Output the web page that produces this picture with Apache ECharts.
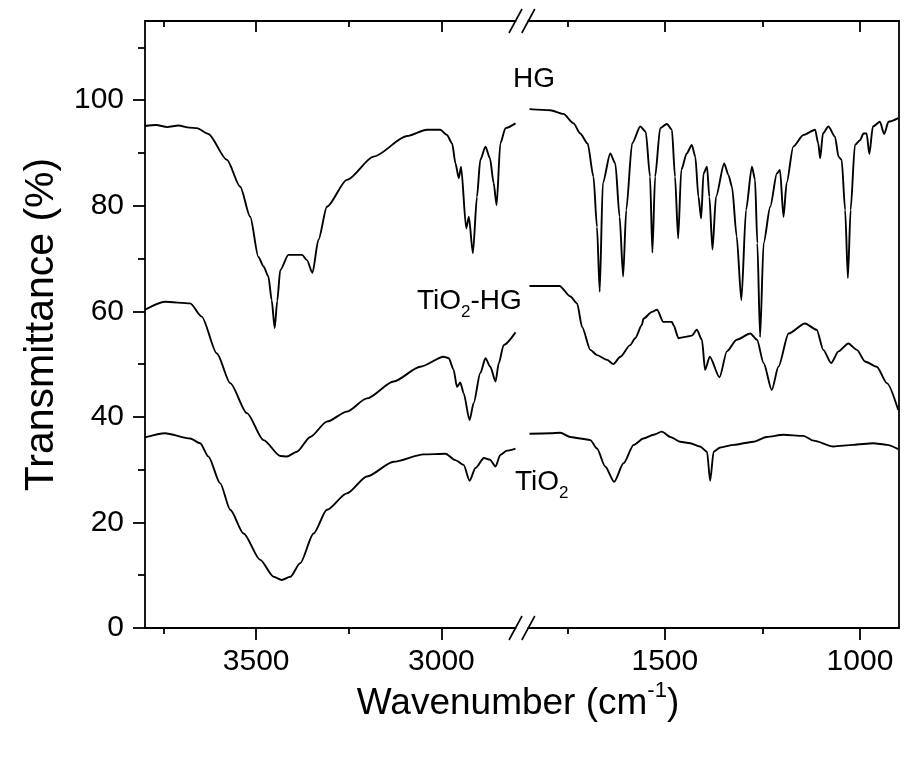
<!DOCTYPE html>
<html>
<head>
<meta charset="utf-8">
<script src="https://cdn.jsdelivr.net/npm/echarts@6/dist/echarts.min.js"></script>
<style>
  html, body { margin: 0; padding: 0; background: #fff; }
  #chart { width: 913px; height: 759px; }
</style>
</head>
<body>
<div id="chart"></div>
<script>
// [wavenumber (cm-1), transmittance (%)]
// high wavenumber part (3800 - 2800)
const hgHigh = [[3800,95.1],[3770,95.3],[3740,94.9],[3710,95.2],[3680,94.8],[3660,94.7],[3629,93.6],[3579,88.7],[3543,83.6],[3516,77.9],[3494,70.3],[3480,68.5],[3467,66.6],[3458,62.1],[3450,56.8],[3443,62.0],[3435,67.8],[3413,70.7],[3376,70.7],[3363,69.7],[3348,67.3],[3332,73.5],[3309,79.8],[3255,84.9],[3183,89.3],[3093,93.2],[3039,94.4],[3003,94.4],[2985,93.4],[2971,91.8],[2962,88.0],[2953,85.2],[2947,87.4],[2933,75.7],[2926,77.9],[2915,71.0],[2904,81.7],[2895,88.7],[2881,91.2],[2869,89.0],[2859,84.3],[2851,80.1],[2841,91.8],[2827,94.7],[2800,95.6]];
const tio2hgHigh = [[3800,60.3],[3746,61.8],[3678,61.5],[3647,59.0],[3606,52.0],[3570,46.4],[3525,40.7],[3480,35.6],[3435,32.6],[3417,32.5],[3390,33.4],[3354,36.2],[3309,39.1],[3255,41.0],[3201,43.5],[3129,46.7],[3057,49.5],[2994,51.4],[2980,51.1],[2967,48.9],[2958,45.7],[2949,46.5],[2940,44.5],[2924,39.4],[2913,42.6],[2895,48.3],[2881,51.1],[2868,49.5],[2854,46.7],[2845,50.2],[2832,53.6],[2800,56.0]];
const tio2High = [[3800,36.1],[3746,36.9],[3678,35.9],[3651,35.0],[3629,32.5],[3597,27.4],[3570,22.4],[3534,17.9],[3489,12.9],[3453,9.7],[3431,9.1],[3408,9.7],[3381,12.3],[3345,17.9],[3309,22.4],[3255,25.5],[3201,28.7],[3129,31.5],[3048,32.9],[2989,33.0],[2962,31.8],[2940,30.9],[2924,27.9],[2908,30.3],[2885,32.2],[2869,31.9],[2854,30.6],[2841,32.8],[2823,33.6],[2800,34.0]];

// low wavenumber part (1850 - 900)
const hgLow = [[1847,98.3],[1794,98.1],[1760,97.4],[1734,95.6],[1717,93.7],[1698,91.8],[1683,85.5],[1674,76.0],[1667,63.7],[1659,84.3],[1640,89.9],[1627,88.0],[1616,77.9],[1607,66.6],[1599,79.2],[1584,91.8],[1563,95.0],[1549,94.0],[1538,85.5],[1532,71.1],[1525,85.5],[1512,94.7],[1495,95.5],[1482,94.4],[1474,85.5],[1466,73.8],[1458,86.8],[1444,89.9],[1431,91.5],[1422,89.3],[1414,81.7],[1407,77.6],[1401,86.1],[1392,87.4],[1386,81.7],[1378,71.7],[1369,81.7],[1348,88.0],[1337,85.8],[1328,83.6],[1316,74.2],[1304,62.1],[1292,79.2],[1277,87.4],[1269,85.0],[1263,72.9],[1256,55.1],[1247,72.9],[1230,79.8],[1213,86.1],[1205,86.8],[1196,77.9],[1188,84.3],[1171,91.2],[1145,93.4],[1115,94.4],[1107,91.8],[1102,89.0],[1095,93.7],[1081,95.0],[1064,93.1],[1055,89.3],[1047,88.7],[1038,79.2],[1031,66.3],[1024,79.2],[1013,91.5],[1000,92.4],[991,93.7],[983,93.7],[976,89.8],[967,95.0],[949,95.9],[938,93.6],[927,95.9],[902,96.6]];
const tio2hgLow = [[1847,64.8],[1794,64.8],[1770,64.8],[1742,62.8],[1725,61.5],[1712,57.0],[1691,52.7],[1674,51.7],[1648,50.8],[1632,50.0],[1614,51.4],[1589,53.6],[1576,54.9],[1559,57.4],[1555,58.6],[1533,59.9],[1520,60.3],[1504,58.0],[1482,58.0],[1478,57.4],[1465,54.9],[1444,55.2],[1431,55.4],[1418,56.5],[1405,54.6],[1397,48.9],[1385,51.4],[1360,47.5],[1341,52.4],[1316,54.6],[1281,55.8],[1264,54.6],[1247,50.2],[1226,45.1],[1209,49.5],[1183,55.8],[1141,57.7],[1111,56.5],[1094,52.7],[1074,50.2],[1055,52.4],[1030,53.9],[1008,52.7],[987,50.5],[957,49.5],[931,46.4],[902,41.3]];
const tio2Low = [[1847,36.8],[1794,36.9],[1768,37.0],[1742,36.2],[1717,35.9],[1691,35.6],[1674,34.0],[1653,30.6],[1630,27.7],[1606,31.2],[1580,34.7],[1555,35.9],[1529,36.6],[1508,37.2],[1486,36.2],[1461,35.3],[1435,35.0],[1410,34.4],[1392,33.4],[1384,27.9],[1375,33.4],[1358,34.2],[1324,34.7],[1273,35.3],[1239,36.2],[1196,36.6],[1145,36.4],[1119,35.5],[1068,34.4],[1017,34.7],[966,35.0],[931,34.7],[902,33.9]];

// axis ranges and ticks
const highRange = [2800, 3800];
const lowRange = [900, 1850];
const highMajor = [3500, 3000];
const highMinor = [3750, 3250];
const lowMajor = [1500, 1000];
const lowMinor = [1750, 1250];
const yRange = [0, 115];
const yMajor = [0, 20, 40, 60, 80, 100];
const yMinor = [10, 30, 50, 70, 90, 110];

const FONT = '"Liberation Sans", Arial, sans-serif';
const BLACK = '#000';
const AXIS_W = 1.8;
const PLOT_TOP = 21, PLOT_BOTTOM = 628;
const BREAK_L = 515.5, BREAK_R = 528.3;

const chart = echarts.init(document.getElementById('chart'), null, { renderer: 'canvas' });

function xAxisDef(gridIndex, range, pos, ticks, len, withLabels, withLine) {
  return {
    type: 'value',
    gridIndex: gridIndex,
    min: range[0],
    max: range[1],
    inverse: true,
    position: pos,
    axisLine: { show: withLine, onZero: false, lineStyle: { color: BLACK, width: AXIS_W } },
    axisTick: {
      show: true, inside: pos === 'top', length: len, customValues: ticks,
      lineStyle: { color: BLACK, width: AXIS_W }
    },
    axisLabel: withLabels
      ? { show: true, customValues: ticks, margin: 19, fontSize: 30, color: BLACK, fontFamily: FONT,
          formatter: (v) => String(v) }
      : { show: false },
    splitLine: { show: false }
  };
}

function lineSeries(name, data, xi, yi) {
  return {
    name: name,
    type: 'line',
    data: data,
    xAxisIndex: xi,
    yAxisIndex: yi,
    showSymbol: false,
    smooth: 0.25,
    smoothMonotone: 'x',
    lineStyle: { color: BLACK, width: 1.9 },
    silent: true
  };
}

function breakMark(cx, cy) {
  return {
    type: 'line',
    shape: { x1: cx - 6.5, y1: cy + 12, x2: cx + 6.5, y2: cy - 12 },
    style: { stroke: BLACK, lineWidth: 1.6 }
  };
}

const richBase = { fontSize: 28, fontFamily: FONT, color: BLACK, lineHeight: 40 };
const richSub = { fontSize: 17, fontFamily: FONT, color: BLACK, lineHeight: 8, verticalAlign: 'bottom' };

chart.setOption({
  animation: false,
  backgroundColor: '#fff',
  grid: [
    { left: 145, top: PLOT_TOP, width: BREAK_L - 145, height: PLOT_BOTTOM - PLOT_TOP },
    { left: BREAK_R, top: PLOT_TOP, width: 899 - BREAK_R, height: PLOT_BOTTOM - PLOT_TOP }
  ],
  xAxis: [
    xAxisDef(0, highRange, 'bottom', highMajor, 12, true, true),
    xAxisDef(0, highRange, 'bottom', highMinor, 6, false, false),
    xAxisDef(0, highRange, 'top', highMajor, 11, false, true),
    xAxisDef(0, highRange, 'top', highMinor, 6, false, false),
    xAxisDef(1, lowRange, 'bottom', lowMajor, 12, true, true),
    xAxisDef(1, lowRange, 'bottom', lowMinor, 6, false, false),
    xAxisDef(1, lowRange, 'top', lowMajor, 11, false, true),
    xAxisDef(1, lowRange, 'top', lowMinor, 6, false, false)
  ],
  yAxis: [
    {
      type: 'value', gridIndex: 0, min: yRange[0], max: yRange[1], position: 'left',
      name: 'Transmittance (%)', nameLocation: 'middle', nameGap: 83, nameRotate: 90,
      nameTextStyle: { fontSize: 41, color: BLACK, fontFamily: FONT },
      axisLine: { show: true, onZero: false, lineStyle: { color: BLACK, width: AXIS_W } },
      axisTick: { show: true, length: 12, customValues: yMajor, lineStyle: { color: BLACK, width: AXIS_W } },
      axisLabel: { show: true, customValues: yMajor, margin: 21, fontSize: 30, color: BLACK, fontFamily: FONT },
      splitLine: { show: false }
    },
    {
      type: 'value', gridIndex: 0, min: yRange[0], max: yRange[1], position: 'left',
      axisLine: { show: false },
      axisTick: { show: true, length: 7, customValues: yMinor, lineStyle: { color: BLACK, width: AXIS_W } },
      axisLabel: { show: false },
      splitLine: { show: false }
    },
    {
      type: 'value', gridIndex: 1, min: yRange[0], max: yRange[1], position: 'right',
      axisLine: { show: true, onZero: false, lineStyle: { color: BLACK, width: AXIS_W } },
      axisTick: { show: false },
      axisLabel: { show: false },
      splitLine: { show: false }
    }
  ],
  series: [
    lineSeries('HG', hgHigh, 0, 0),
    lineSeries('TiO2-HG', tio2hgHigh, 0, 0),
    lineSeries('TiO2', tio2High, 0, 0),
    lineSeries('HG', hgLow, 4, 2),
    lineSeries('TiO2-HG', tio2hgLow, 4, 2),
    lineSeries('TiO2', tio2Low, 4, 2)
  ],
  graphic: [
    breakMark(BREAK_L, PLOT_BOTTOM), breakMark(BREAK_R, PLOT_BOTTOM),
    breakMark(BREAK_L, PLOT_TOP), breakMark(BREAK_R, PLOT_TOP),
    {
      type: 'text', left: 513, top: 65,
      style: { text: 'HG', fontSize: 28, fontFamily: FONT, fill: BLACK }
    },
    {
      type: 'text', x: 417, y: 301,
      style: {
        text: '{n|TiO}{s|2}{n|-HG}', verticalAlign: 'middle', align: 'left',
        rich: { n: richBase, s: richSub }
      }
    },
    {
      type: 'text', x: 515, y: 482,
      style: {
        text: '{n|TiO}{s|2}', verticalAlign: 'middle', align: 'left',
        rich: { n: richBase, s: richSub }
      }
    },
    {
      type: 'text', x: 518, y: 704,
      style: {
        text: '{n|Wavenumber (cm}{s|-1}{n|)}', align: 'center', verticalAlign: 'middle',
        rich: {
          n: { fontSize: 37, fontFamily: FONT, color: BLACK, lineHeight: 48 },
          s: { fontSize: 22, fontFamily: FONT, color: BLACK, lineHeight: 20, verticalAlign: 'top' }
        }
      }
    }
  ]
});
</script>
</body>
</html>
